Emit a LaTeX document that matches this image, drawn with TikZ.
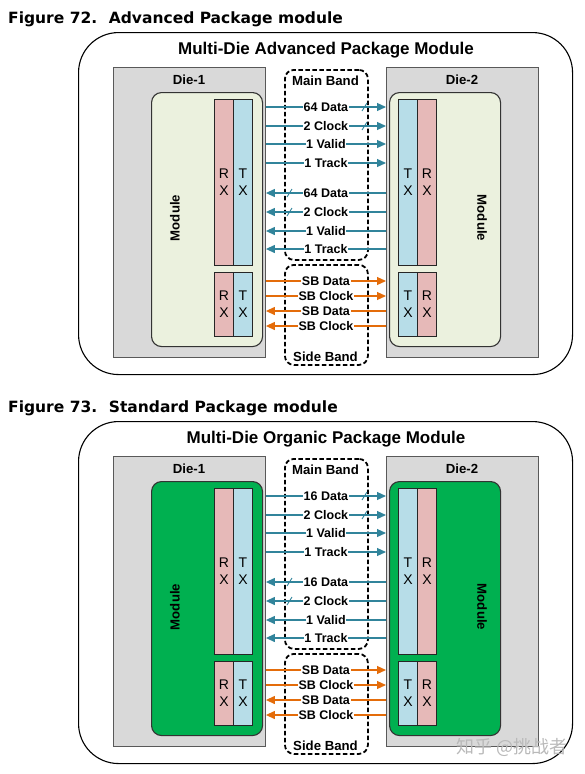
\documentclass[tikz,border=0pt]{standalone}
\usepackage{fontspec}
\setmainfont{Liberation Sans}
\newfontfamily\verdana{DejaVu Sans}
\newfontfamily\cjk{Noto Sans CJK SC}
\usetikzlibrary{arrows.meta}

\definecolor{diegray}{HTML}{D9D9D9}
\definecolor{modbeige}{HTML}{EBF1DE}
\definecolor{modgreen}{HTML}{00B050}
\definecolor{rxpink}{HTML}{E6B9B8}
\definecolor{txblue}{HTML}{B7DDE8}
\definecolor{mbteal}{HTML}{31849B}
\definecolor{sborange}{HTML}{E46C0A}

\tikzset{
  figtitle/.style={anchor=base west, inner sep=0pt, font=\verdana\bfseries\fontsize{15.5}{15.5}\selectfont},
  pkgtitle/.style={anchor=base, inner sep=0pt, font=\bfseries\fontsize{17}{17}\selectfont},
  boldlabel/.style={inner sep=0pt, font=\bfseries\fontsize{13.2}{13.2}\selectfont},
  pkgbox/.style={draw=black, line width=1.1pt, rounded corners=40pt, anchor=north west, inner sep=0pt, minimum width=494pt},
  diebox/.style={draw=black!65, fill=diegray, line width=0.9pt, anchor=north west, inner sep=0pt, minimum width=152pt, minimum height=290pt},
  modbox/.style={draw=black!80, line width=1.1pt, rounded corners=10pt, anchor=north west, inner sep=0pt, minimum width=111pt, minimum height=254pt},
  lanebox/.style={draw=black!85, line width=1pt, anchor=north west, inner sep=0pt, minimum width=19pt, align=center, font=\fontsize{14}{17}\selectfont},
  bandbox/.style={draw=black, line width=1.8pt, dash pattern=on 4.5pt off 2.5pt, rounded corners=9pt, anchor=north west, inner sep=0pt, minimum width=83pt},
  mbarrow/.style={draw=mbteal, line width=1.2pt, -{Triangle[length=9pt,width=8pt]}},
  sbarrow/.style={draw=sborange, line width=1.2pt, -{Triangle[length=9pt,width=8pt]}},
  siglabel/.style={fill=white, inner sep=0.6pt, font=\bfseries\fontsize{12.5}{12.5}\selectfont},
}

\begin{document}
\begin{tikzpicture}[x=1pt, y=-1pt]
\useasboundingbox (0,0) rectangle (585,774);

% two figures: same layout, shifted down by 389
\foreach \fy/\fnum/\fname/\pkg/\ndata/\mfill in {0/72/Advanced/Advanced/64/modbeige, 389/73/Standard/Organic/16/modgreen} {
\begin{scope}[shift={(0,\fy)}, name prefix=f\fnum-]
  % caption and package outline
  \node[figtitle] (cap) at (8,23) {Figure \fnum.\hspace{0.75em}\fname\ Package module};
  \node[pkgbox, minimum height=342pt] (pkg) at (78,32) {};
  \node[pkgtitle] (title) at (326,54) {Multi-Die \pkg\ Package Module};

  % dies and modules
  \node[diebox] (die1) at (113,67) {};
  \node[diebox] (die2) at (386,67) {};
  \node[boldlabel, anchor=base] (die1-name) at (189,84) {Die-1};
  \node[boldlabel, anchor=base] (die2-name) at (462,84) {Die-2};
  \node[modbox, fill=\mfill] (mod1) at (151,92) {};
  \node[modbox, fill=\mfill] (mod2) at (389,92) {};
  \node[boldlabel, rotate=90] (mod1-name) at (175,218) {Module};
  \node[boldlabel, rotate=-90] (mod2-name) at (482,218) {Module};

  % RX/TX lanes, main band then side band
  \node[lanebox, fill=rxpink, minimum height=166pt] (rx1) at (214,99) {R\\X};
  \node[lanebox, fill=txblue, minimum height=166pt] (tx1) at (233,99) {T\\X};
  \node[lanebox, fill=txblue, minimum height=166pt] (tx2) at (398,99) {T\\X};
  \node[lanebox, fill=rxpink, minimum height=166pt] (rx2) at (417,99) {R\\X};
  \node[lanebox, fill=rxpink, minimum height=64pt] (sbrx1) at (214,272) {R\\X};
  \node[lanebox, fill=txblue, minimum height=64pt] (sbtx1) at (233,272) {T\\X};
  \node[lanebox, fill=txblue, minimum height=64pt] (sbtx2) at (398,272) {T\\X};
  \node[lanebox, fill=rxpink, minimum height=64pt] (sbrx2) at (417,272) {R\\X};

  % dashed bands
  \node[bandbox, minimum height=190pt] (mainband) at (284,69) {};
  \node[bandbox, minimum height=100pt] (sideband) at (284,264) {};
  \node[boldlabel, anchor=base] (mainband-name) at (325.5,85) {Main Band};
  \node[boldlabel, anchor=base] (sideband-name) at (325.5,361) {Side Band};

  % main band signals
  \foreach \sy/\stxt in {107/\ndata\ Data, 126/2 Clock, 144/1 Valid, 163/1 Track}
    \draw[mbarrow] (die1.east |- 0,\sy) -- node[siglabel] {\stxt} (die2.west |- 0,\sy);
  \foreach \sy/\stxt in {193/\ndata\ Data, 212/2 Clock, 231/1 Valid, 249/1 Track}
    \draw[mbarrow] (die2.west |- 0,\sy) -- node[siglabel] {\stxt} (die1.east |- 0,\sy);
  % bus ticks
  \foreach \sy in {107,126}
    \draw[mbteal, line width=0.9pt] (362,\sy+4) -- (367,\sy-4);
  \foreach \sy in {193,212}
    \draw[mbteal, line width=0.9pt] (287,\sy+4) -- (292,\sy-4);

  % side band signals
  \foreach \sy/\stxt in {281/SB Data, 296/SB Clock}
    \draw[sbarrow] (die1.east |- 0,\sy) -- node[siglabel] {\stxt} (die2.west |- 0,\sy);
  \foreach \sy/\stxt in {311/SB Data, 326/SB Clock}
    \draw[sbarrow] (die2.west |- 0,\sy) -- node[siglabel] {\stxt} (die1.east |- 0,\sy);
\end{scope}
}

% watermark
\node[text=gray!55, font=\cjk\fontsize{18}{18}\selectfont] (wmark) at (512,747) {知乎 @挑战者};
\end{tikzpicture}
\end{document}
